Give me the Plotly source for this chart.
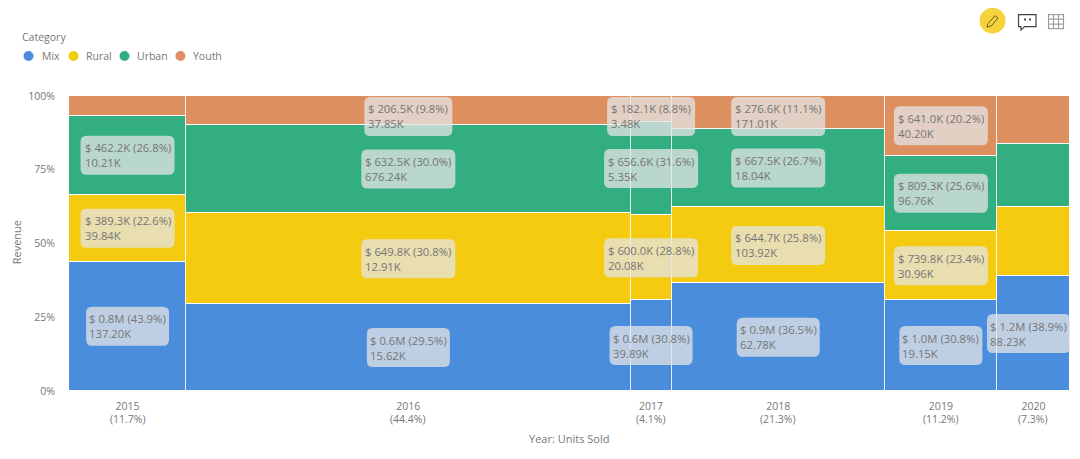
import plotly.graph_objects as go
import numpy as np

years = ["2015", "2016", "2017", "2018", "2019", "2020"]
units_share = [11.7, 44.4, 4.1, 21.3, 11.2, 7.3]
categories = ["Mix", "Rural", "Urban", "Youth"]
mix = [43.9, 29.5, 30.8, 36.5, 30.8, 38.9]
rural = [22.6, 30.8, 28.8, 25.8, 23.4, 23.6]
urban = [26.8, 30.0, 31.6, 26.7, 25.6, 21.3]
youth = [6.7, 9.8, 8.8, 11.1, 20.2, 16.2]
colors = ["#4a8ddc", "#f4cb10", "#33ae81", "#dd8f5f"]

mix_labels = ["$ 0.8M (43.9%)<br>137.20K", "$ 0.6M (29.5%)<br>15.62K", "$ 0.6M (30.8%)<br>39.89K",
              "$ 0.9M (36.5%)<br>62.78K", "$ 1.0M (30.8%)<br>19.15K", "$ 1.2M (38.9%)<br>88.23K"]
rural_labels = ["$ 389.3K (22.6%)<br>39.84K", "$ 649.8K (30.8%)<br>12.91K", "$ 600.0K (28.8%)<br>20.08K",
                "$ 644.7K (25.8%)<br>103.92K", "$ 739.8K (23.4%)<br>30.96K", None]
urban_labels = ["$ 462.2K (26.8%)<br>10.21K", "$ 632.5K (30.0%)<br>676.24K", "$ 656.6K (31.6%)<br>5.35K",
                "$ 667.5K (26.7%)<br>18.04K", "$ 809.3K (25.6%)<br>96.76K", None]
youth_labels = [None, "$ 206.5K (9.8%)<br>37.85K", "$ 182.1K (8.8%)<br>3.48K",
                "$ 276.6K (11.1%)<br>171.01K", "$ 641.0K (20.2%)<br>40.20K", None]

W, H = 1080, 459
L, R, T, B = 68.5, 10, 96, 67.5
PW, PH = W - L - R, H - T - B
FONT = "Open Sans, Noto Sans, sans-serif"
TXT = "#777777"

widths = np.array(units_share)
lefts = np.concatenate([[0], np.cumsum(widths)[:-1]])
centers = lefts + widths / 2
series = [mix, rural, urban, youth]
labels = [mix_labels, rural_labels, urban_labels, youth_labels]

fig = go.Figure()
for name, vals, col in zip(categories, series, colors):
    fig.add_bar(x=centers, y=vals, width=widths, name=name, showlegend=False,
                marker=dict(color=col, line=dict(color="rgba(255,255,255,0.85)", width=1.2)))


def rr(w, h, r=6):
    a, b = w / 2, h / 2
    return (f"M {-a+r} {-b} L {a-r} {-b} Q {a} {-b} {a} {-b+r} L {a} {b-r} Q {a} {b} {a-r} {b} "
            f"L {-a+r} {b} Q {-a} {b} {-a} {b-r} L {-a} {-b+r} Q {-a} {-b} {-a+r} {-b} Z")


shapes, annos = [], []
totals = np.sum(series, axis=0)
base = np.zeros(len(years))
for vals, labs in zip(series, labels):
    pct = np.array(vals) / totals * 100
    for i, lab in enumerate(labs):
        if lab:
            bw = 83 if "M (" in lab else 94 if len(lab.split("<br>")[0]) > 15 else 88
            bh = 39
            cx = centers[i]
            cy = base[i] + pct[i] / 2
            cx = min(cx, 100 - (bw / 2) / PW * 100)
            cy = min(cy, 100 - (bh / 2 + 1) / PH * 100)
            shapes.append(dict(type="path", xref="x", yref="y", xsizemode="pixel", ysizemode="pixel",
                               xanchor=cx, yanchor=cy, path=rr(bw, bh),
                               fillcolor="rgba(228,228,228,0.755)", line=dict(width=0), layer="above"))
            annos.append(dict(x=cx, y=cy, xref="x", yref="y", text=lab, showarrow=False, align="left",
                              xanchor="center", yanchor="middle",
                              font=dict(family=FONT, size=11.3, color="#757575")))
    base += pct


def px(x):
    return (x - L) / PW


def py(y):
    return 1 - (y - T) / PH


def ppath(pts, close=False):
    s = "M " + " L ".join(f"{px(a):.5f} {py(b):.5f}" for a, b in pts)
    return s + (" Z" if close else "")


def pshape(kind, x0, y0, x1, y1, **kw):
    return dict(type=kind, xref="paper", yref="paper", x0=px(x0), x1=px(x1), y0=py(y0), y1=py(y1), **kw)


def ptext(x, y, text, size=10.5, anchor="left", color=TXT, angle=0):
    return dict(x=px(x), y=py(y), xref="paper", yref="paper", text=text, showarrow=False, textangle=angle,
                xanchor=anchor, yanchor="middle", font=dict(family=FONT, size=size, color=color))


# legend
annos.append(ptext(19, 37, "Category"))
legend_dot_x = [28, 73, 124, 180]
for name, col, dx in zip(categories, colors, legend_dot_x):
    shapes.append(pshape("circle", dx - 5, 51, dx + 5, 61, fillcolor=col, line=dict(width=0)))
    annos.append(ptext(dx + 11, 56, name))

# second line of the x tick labels
for c, s in zip(centers, units_share):
    annos.append(dict(x=c, y=py(420), xref="x", yref="paper", text=f"({s}%)", showarrow=False,
                      xanchor="center", yanchor="middle", font=dict(family=FONT, size=10.5, color=TXT)))

# toolbar icons
shapes.append(pshape("circle", 979.5, 7.5, 1005.5, 33.5, fillcolor="#f5d33c", line=dict(width=0)))
shapes.append(dict(type="path", xref="paper", yref="paper",
                   path=ppath([(987, 27), (988, 23.5), (995, 15.5), (998, 18), (991, 26)], True),
                   fillcolor="rgba(0,0,0,0)", line=dict(color="#6b5a1e", width=1)))
shapes.append(dict(type="path", xref="paper", yref="paper",
                   path=ppath([(1018.5, 14.5), (1036, 14.5), (1036, 26.5), (1024.5, 26.5), (1021, 30), (1021, 26.5), (1018.5, 26.5)], True),
                   fillcolor="white", line=dict(color="#444444", width=1.2)))
shapes.append(pshape("circle", 1024, 18, 1026, 20.5, fillcolor="#444444", line=dict(width=0)))
shapes.append(pshape("circle", 1029, 18, 1031, 20.5, fillcolor="#444444", line=dict(width=0)))
for gx in (1048.5, 1053.5, 1058.5, 1063.5):
    shapes.append(pshape("line", gx, 14, gx, 29, line=dict(color="#999999", width=1.1)))
for gy in (14.5, 19, 24, 28.5):
    shapes.append(pshape("line", 1048, gy, 1064, gy, line=dict(color="#999999", width=1.1)))

annos.append(ptext(569, 439, "Year: Units Sold", size=11))
annos[-1]["xanchor"] = "center"
annos.append(ptext(16, 243, "Revenue", size=11, anchor="center", angle=-90))

fig.update_layout(
    width=W, height=H, margin=dict(l=L, r=R, t=T, b=B),
    barmode="stack", barnorm="percent", bargap=0, showlegend=False,
    paper_bgcolor="white", plot_bgcolor="white",
    font=dict(family=FONT, size=10.5, color=TXT),
    shapes=shapes, annotations=annos,
    xaxis=dict(range=[0, 100], tickmode="array", tickvals=centers.tolist(), ticktext=years,
               showgrid=False, zeroline=False, showline=False, ticks="", ticklabelstandoff=7),
    yaxis=dict(range=[0, 100], tickmode="array", tickvals=[0, 25, 50, 75, 100],
               ticktext=["0%", "25%", "50%", "75%", "100%"], showgrid=False, zeroline=False,
               showline=False, ticks="", ticklabelstandoff=13),
)
fig.write_html("out.html", post_script="document.body.style.margin='0';", config=dict(displayModeBar=False))
